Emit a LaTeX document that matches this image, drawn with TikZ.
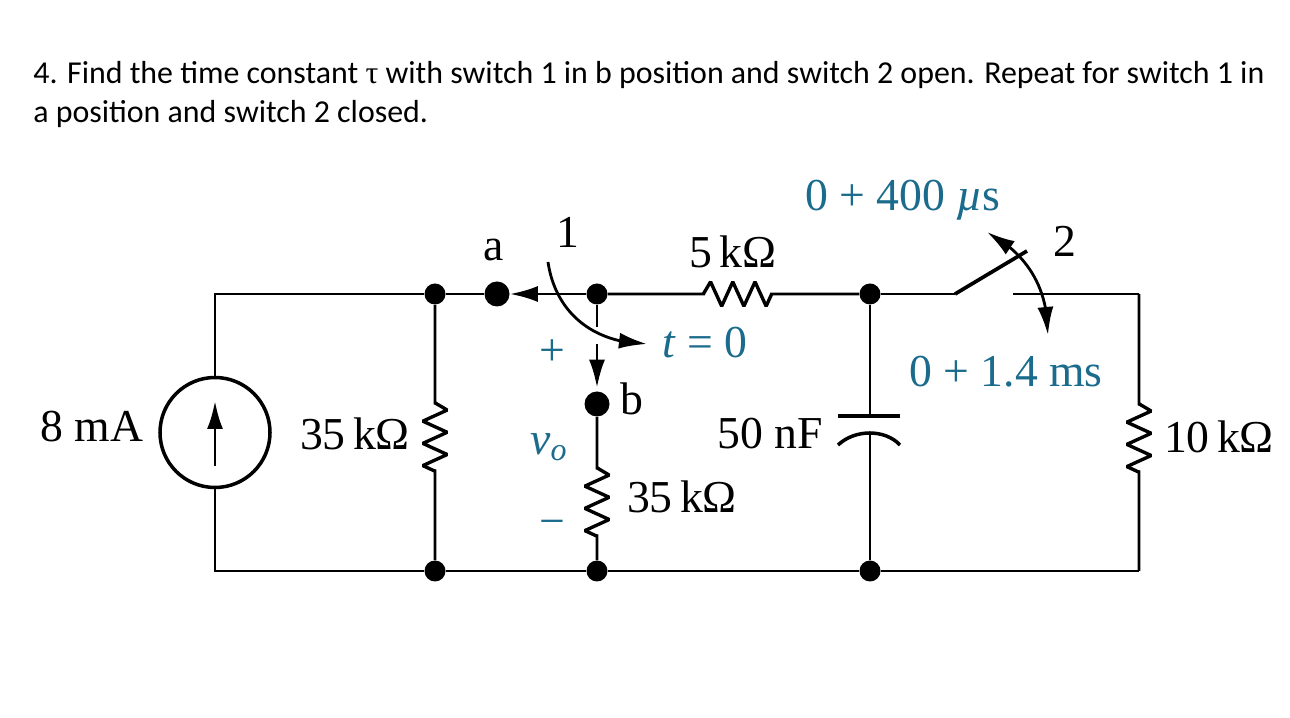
\documentclass[tikz,border=0pt]{standalone}
\usepackage{fontspec}
\usepackage{circuitikz}
\usetikzlibrary{arrows.meta}
\setmainfont{Carlito}
\newfontfamily\labfont{Liberation Serif}
\definecolor{labteal}{HTML}{1A6B8C}
\tikzset{
    wire/.style={line width=1.6pt},
    junct/.style={circle,fill=black,inner sep=0pt,minimum size=0.42cm},
    bigjunct/.style={circle,fill=black,inner sep=0pt,minimum size=0.5cm},
    head/.style={anchor=base west,inner sep=0pt,font=\fontsize{18.15}{22}\selectfont},
    lab/.style={inner sep=0pt,font=\labfont\fontsize{26}{30}\selectfont},
    tlab/.style={lab,text=labteal},
    tip/.style={-{Latex[length=0.56cm,width=0.32cm]}},
    bothtip/.style={{Latex[length=0.56cm,width=0.32cm]}-{Latex[length=0.56cm,width=0.32cm]}}
}
\begin{document}
\begin{tikzpicture}
\ctikzset{
    bipoles/length=1.625cm,
    bipoles/resistor/height=0.3,
    bipoles/thickness=1.2
}
\useasboundingbox (0,0) rectangle (25.8,-14.36);
% Text
\node[head] (line1) at (0.66,-1.68){4. Find the time constant {\labfont τ} with switch 1 in b position and switch 2 open. Repeat for switch 1 in};
\node[head] (line2) at (0.66,-2.46){a position and switch 2 closed.};
% Junctions
\node[junct] (ntop) at (8.7,-5.88){};
\node[junct] (nbot) at (8.7,-11.42){};
\node[bigjunct] (a) at (9.94,-5.88){};
\node[junct] (sw) at (11.94,-5.88){};
\node[bigjunct] (b) at (11.94,-8.08){};
\node[junct] (mbot) at (11.94,-11.42){};
\node[junct] (ctop) at (17.4,-5.88){};
\node[junct] (cbot) at (17.4,-11.42){};
% Corners
\coordinate (tl) at (4.3,-5.88);
\coordinate (bl) at (4.3,-11.42);
\coordinate (tr) at (22.78,-5.88);
\coordinate (br) at (22.78,-11.42);
% Source
\node[circle,draw,line width=2pt,minimum size=2.2cm,inner sep=0pt] (src) at (4.3,-8.65){};
\coordinate (srcs) at (4.3,-9.32);
\coordinate (srce) at (4.3,-8.02);
\draw[wire] (src.north)--(tl)--(ntop)--(a);
\draw[wire] (src.south)--(bl)--(nbot)--(mbot)--(cbot)--(br);
\draw[wire,tip] (srcs)--(srce);
% Resistors
\coordinate (r1t) at (8.7,-7.74);
\coordinate (r1b) at (8.7,-9.74);
\draw[wire] (ntop)--(r1t) to[R] (r1b)--(nbot);
\coordinate (r2t) at (11.94,-9.04);
\coordinate (r2b) at (11.94,-11.04);
\draw[wire] (b)--(r2t) to[R] (r2b)--(mbot);
\coordinate (r3l) at (13.75,-5.88);
\coordinate (r3r) at (15.75,-5.88);
\draw[wire] (sw)--(r3l) to[R] (r3r)--(ctop);
\coordinate (r4t) at (22.78,-7.76);
\coordinate (r4b) at (22.78,-9.76);
\draw[wire] (tr)--(r4t) to[R] (r4b)--(br);
% Capacitor
\coordinate (pt) at (17.4,-8.32);
\coordinate (pl) at (16.76,-8.32);
\coordinate (pr) at (18.0,-8.32);
\coordinate (cl) at (16.76,-8.9);
\coordinate (cr) at (18.0,-8.9);
\coordinate (pb) at (17.4,-8.66);
\draw[wire] (ctop)--(pt);
\draw[line width=2.2pt] (pl)--(pr);
\draw[line width=2pt] (cl) .. controls (17.1,-8.58) and (17.7,-8.58) .. (cr);
\draw[wire] (pb)--(cbot);
% Switch 1
\coordinate (g1) at (11.94,-6.54);
\coordinate (g2) at (11.94,-6.88);
\draw[wire,tip] (sw)--(a);
\draw[wire] (sw)--(g1);
\draw[wire,tip,shorten >=2pt] (g2)--(b);
\coordinate (arc1s) at (10.96,-5.24);
\coordinate (arc1e) at (12.94,-6.88);
\draw[wire,tip] (arc1s) .. controls (11.1,-6.2) and (11.8,-6.86) .. (arc1e);
% Switch 2
\coordinate (sw2l) at (19.1,-5.88);
\coordinate (sw2t) at (20.54,-5.02);
\coordinate (sw2r) at (20.26,-5.88);
\draw[wire] (ctop)--(sw2l);
\draw[line width=2.1pt] (sw2l)--(sw2t);
\draw[wire] (sw2r)--(tr);
\coordinate (arc2s) at (19.74,-4.64);
\coordinate (arc2e) at (20.96,-6.7);
\draw[wire,bothtip] (arc2s) .. controls (20.4,-5.0) and (20.96,-5.6) .. (arc2e);
% Labels
\node[lab] (srcl) at (1.84,-8.54){8 mA};
\node[lab] (r1l) at (7.1,-8.68){35\hspace{.16em}kΩ};
\node[lab] (al) at (9.88,-5){a};
\node[lab] (onel) at (11.36,-4.64){1};
\node[lab] (r3t) at (14.66,-5.04){5\hspace{.16em}kΩ};
\node[lab] (bl2) at (12.64,-7.98){b};
\node[lab] (r2l) at (13.64,-9.94){35\hspace{.16em}kΩ};
\node[lab] (cl2) at (15.4,-8.68){50 nF};
\node[lab] (twol) at (21.3,-4.82){2};
\node[lab] (r4l) at (24.38,-8.74){10\hspace{.16em}kΩ};
\node[tlab] (tl2) at (14.1,-6.86){{\itshape t} = 0};
\node[tlab] (plus) at (11.04,-7.06){+};
\node[tlab] (vo) at (10.98,-8.94){{\itshape v\textsubscript{o}}};
\node[tlab] (minus) at (11.04,-10.56){−};
\node[tlab] (t1) at (18.06,-4.0){0 + 400 {\itshape µ}s};
\node[tlab] (t2) at (20.12,-7.44){0 + 1.4 ms};
\end{tikzpicture}
\end{document}
